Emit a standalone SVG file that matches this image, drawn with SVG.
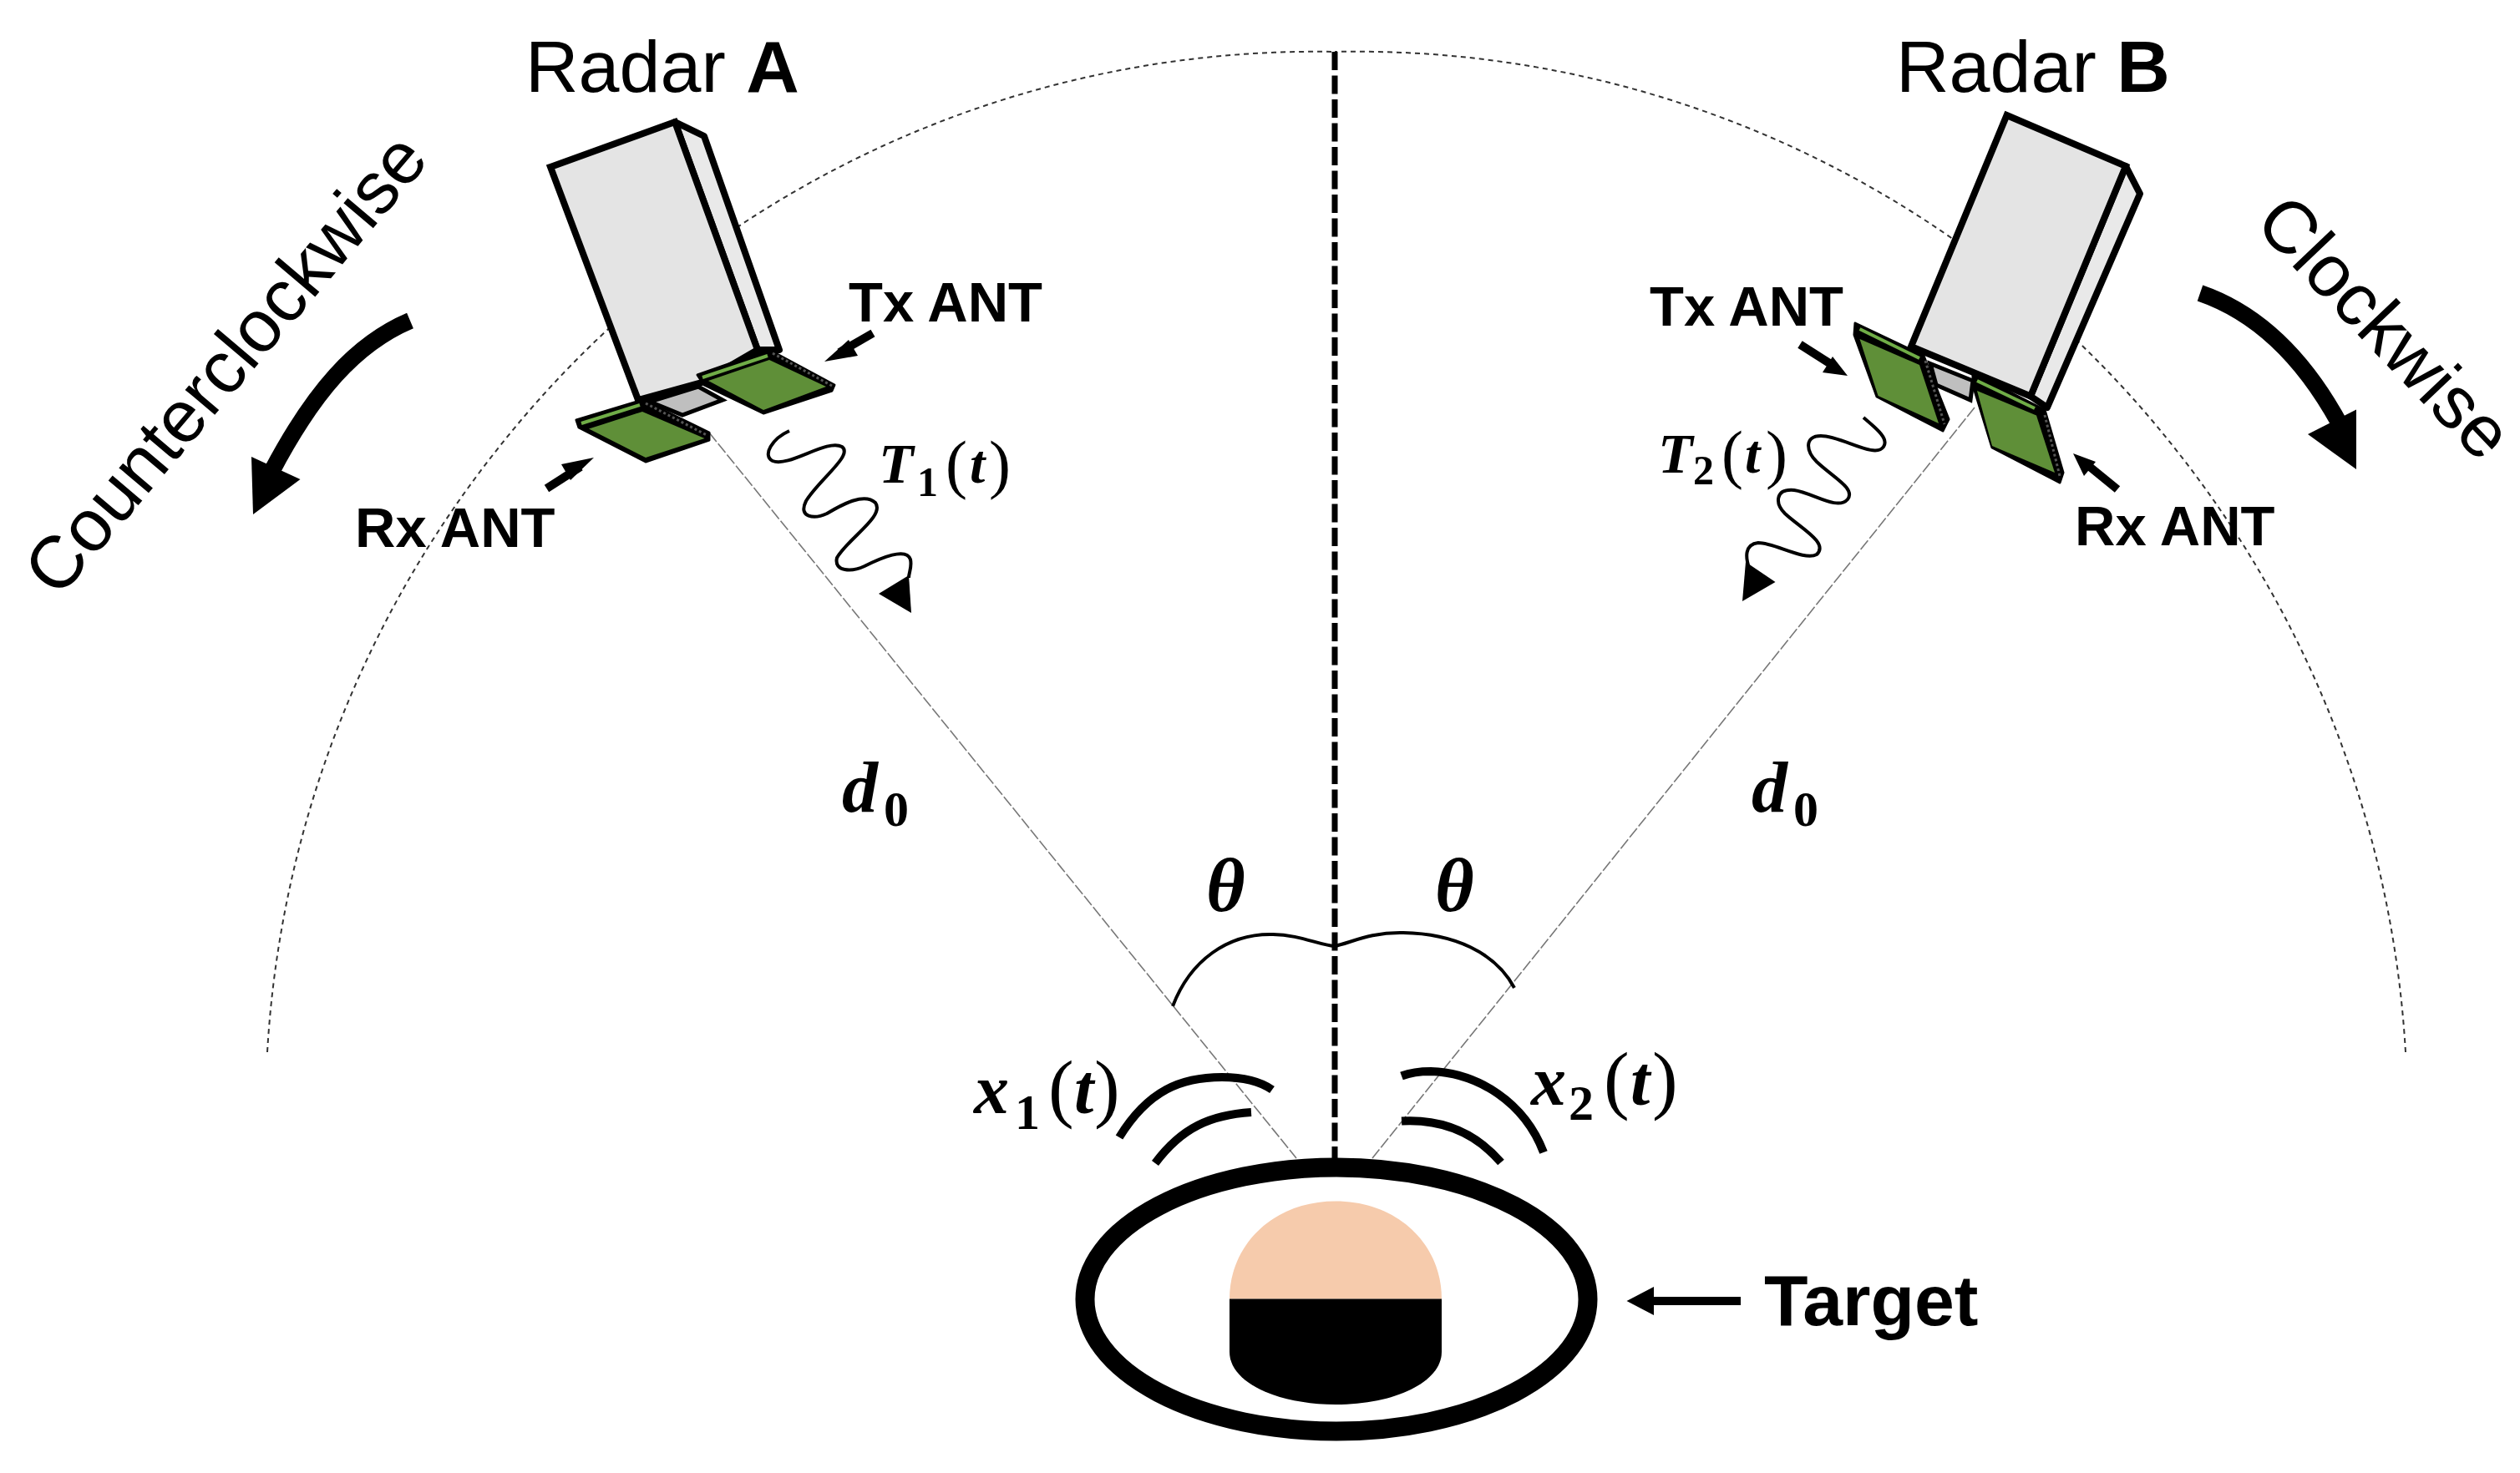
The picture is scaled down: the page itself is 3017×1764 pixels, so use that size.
<svg xmlns="http://www.w3.org/2000/svg" width="3017" height="1764" viewBox="0 0 3017 1764">
<style>
text{fill:#000;font-family:"Liberation Sans",Arial,sans-serif}
.big{font-size:88px}
.ant{font-size:67px;font-weight:700}
.rot{font-size:88px}
.m{font-family:"Liberation Serif","Times New Roman",serif;font-weight:700;font-style:italic}
.p{font-family:"Liberation Serif","Times New Roman",serif;font-weight:400;font-style:normal}
.n{font-family:"Liberation Serif","Times New Roman",serif;font-weight:700;font-style:normal}
.arc{fill:none;stroke:#333;stroke-width:2;stroke-dasharray:6 5}
.ray{fill:none;stroke:#777;stroke-width:1.6;stroke-dasharray:14 3}
.ln{fill:none;stroke:#000;stroke-linecap:butt}
.body{fill:#e4e4e4;stroke:#000;stroke-width:8;stroke-linejoin:miter}
.side{fill:#e9e9e9;stroke:#000;stroke-width:8;stroke-linejoin:round}
.gap{fill:#bfbfbf;stroke:#000;stroke-width:5}
.pb{fill:#000;stroke:#000;stroke-width:3;stroke-linejoin:round}
.pg{fill:#5f8f38}
.ps{fill:none;stroke:#70ad47;stroke-width:4}
.pd{fill:none;stroke:#555;stroke-width:3;stroke-dasharray:3 3}
</style>
<g id="connectors">
<path class="arc" d="M320,1260 A1280,1280 0 0 1 597,536 A1247,1247 0 0 1 1598,62"/>
<path class="arc" d="M2880,1260 A1280,1280 0 0 0 2603,536 A1247,1247 0 0 0 1598,62"/>
<path class="ln" d="M1598,62 V1387" style="stroke-width:7;stroke-dasharray:22 6.5"/>
<path class="ray" d="M849,518 L1552,1387"/>
<path class="ray" d="M2364,488 L1643,1387"/>
<path class="ln" style="stroke-width:4" d="M1404,1205 C1425,1150 1470,1118 1523,1119 C1555,1119 1580,1132 1597.5,1133 C1615,1130 1640,1116 1680,1117 C1740,1118 1790,1140 1813,1183"/>
<path class="ln" style="stroke-width:10" d="M1340,1362 C1375,1305 1415,1290 1463,1290 C1490,1290 1510,1296 1523,1305"/>
<path class="ln" style="stroke-width:10" d="M1383,1393 C1415,1350 1450,1335 1498,1332"/>
<path class="ln" style="stroke-width:10" d="M1678,1288.5 C1690,1284 1700,1283 1713,1283 C1770,1285 1825,1320 1848,1380"/>
<path class="ln" style="stroke-width:10" d="M1678,1342.6 C1725,1340 1765,1355 1797,1392"/>
<path class="ln" style="stroke-width:4" d="M945,516 C925,525 912,545 925,552 C945,560 990,525 1008,535 C1022,545 980,575 965,600 C955,620 975,622 990,615 C1010,603 1035,590 1048,602 C1060,618 1015,645 1002,668 C998,685 1020,685 1035,678 C1055,668 1085,655 1090,670 C1092,680 1088,685 1088,692"/>
<polygon points="1088,689 1052,711 1091,734"/>
<path class="ln" style="stroke-width:4" d="M2231,500 C2245,512 2262,525 2255,535 C2245,550 2205,522 2180,522 C2160,522 2162,540 2175,553 C2195,572 2222,585 2212,598 C2200,612 2170,590 2148,587 C2125,585 2125,603 2137,615 C2155,632 2190,650 2175,664 C2160,672 2125,650 2105,650 C2088,652 2090,668 2094,680"/>
<polygon points="2090,673 2125.5,697 2086,720"/>
<path class="ln" style="stroke-width:20" d="M491,384 C425,412 375,470 325,565"/>
<polygon points="301,547 303,616 359.5,574"/>
<path class="ln" style="stroke-width:20" d="M2634,351 C2695,372 2755,420 2805,515"/>
<polygon points="2821,490.5 2763,520 2821,562"/>
<path class="ln" style="stroke-width:10" d="M1045,399 L1005,422"/>
<polygon points="987,433 1016,407 1027,426"/>
<path class="ln" style="stroke-width:10" d="M654.5,585 L695,559"/>
<polygon points="711,548 683,575 672,556"/>
<path class="ln" style="stroke-width:10" d="M2155,412.5 L2195,438"/>
<polygon points="2212,450 2182,446 2194,427"/>
<path class="ln" style="stroke-width:10" d="M2535,586 L2497,555"/>
<polygon points="2482,543 2509,553 2495,570"/>
<path class="ln" style="stroke-width:10" d="M2084,1558 H1975"/>
<polygon points="1947.5,1558 1980,1541 1980,1575"/>
</g>
<g id="radar-a">
<polygon class="gap" points="778,481 836,463 865,479 817,497"/>
<polygon class="side" points="808,146 843,163 933,419 907,419"/>
<polygon class="body" points="659,200 808,146 907,419 840,458 764,479"/>
<g><polygon class="pb" points="835,449 921,419 999,461 996,468 914,495 843,461"/><polygon class="pg" points="848,456 921,431 989,463 914,491"/><path class="ps" d="M841,452 L919,426"/><path class="pd" d="M925,423 L996,462"/></g>
<g><polygon class="pb" points="690,503 769,479 849,518 849,527 773,553 693,512"/><polygon class="pg" points="705,513.6 769,493 843.6,525 773,548"/><path class="ps" d="M696,507 L766,485"/><path class="pd" d="M773,483 L846,521"/></g>
<text class="big" x="629" y="110">Radar <tspan font-weight="700">A</tspan></text>
<text class="ant" x="1016" y="385">Tx ANT</text>
<text class="ant" x="425" y="655">Rx ANT</text>
</g>
<g id="radar-b">
<polygon class="gap" points="2311,435.5 2362,456 2359,479 2318,461"/>
<polygon class="side" points="2545,199 2562,232 2451,488 2431,474.5"/>
<polygon class="body" points="2402.5,138 2545,199 2431,474.5 2288,415"/>
<g><polygon class="pb" points="2221,387 2303,426 2333,502 2326,516 2247,475 2220,401"/><polygon class="pg" points="2226.5,406 2298,437 2321,507 2248.5,474"/><path class="ps" d="M2226.5,394 L2298,429"/><path class="pd" d="M2305,432 L2328,508"/></g>
<g><polygon class="pb" points="2362,447 2448,491 2470,566 2466,578 2385,536 2362,461"/><polygon class="pg" points="2367,468 2438,497.5 2460,566 2385,534"/><path class="ps" d="M2367,456 L2436,489"/><path class="pd" d="M2448,497 L2466,570"/></g>
<text class="big" x="2270" y="110">Radar <tspan font-weight="700">B</tspan></text>
<text class="ant" x="1975" y="390">Tx ANT</text>
<text class="ant" x="2484" y="653">Rx ANT</text>
</g>
<g id="rotation-labels">
<text class="rot" transform="translate(69.7,718) rotate(-49.7)">Counterclockwise</text>
<text class="rot" transform="translate(2697,269) rotate(46.4)">Clockwise</text>
</g>
<g id="math-labels">
<text class="m" font-size="68" x="1052" y="578">T</text><text class="n" font-size="50" x="1098" y="594">1</text><text class="p" font-size="78" x="1132" y="582">(</text><text class="m" font-size="66" x="1161" y="578">t</text><text class="p" font-size="78" x="1184" y="582">)</text>
<text class="m" font-size="68" x="1985" y="566">T</text><text class="n" font-size="50" x="2027" y="580">2</text><text class="p" font-size="78" x="2061" y="570">(</text><text class="m" font-size="66" x="2089" y="566">t</text><text class="p" font-size="78" x="2114" y="570">)</text>
<text class="m" font-size="86" x="1008" y="972">d</text><text class="n" font-size="60" x="1058" y="989">0</text>
<text class="m" font-size="86" x="2097" y="972">d</text><text class="n" font-size="60" x="2147" y="989">0</text>
<text class="m" font-size="90" x="1444" y="1091">θ</text>
<text class="m" font-size="90" x="1718" y="1091">θ</text>
<text class="m" font-size="84" x="1166" y="1333">x</text><text class="n" font-size="60" x="1215" y="1352">1</text><text class="p" font-size="92" x="1255" y="1333">(</text><text class="m" font-size="84" x="1286" y="1333">t</text><text class="p" font-size="92" x="1310" y="1333">)</text>
<text class="m" font-size="84" x="1833" y="1323">x</text><text class="n" font-size="60" x="1878" y="1341">2</text><text class="p" font-size="92" x="1920" y="1323">(</text><text class="m" font-size="84" x="1952" y="1323">t</text><text class="p" font-size="92" x="1978" y="1323">)</text>
</g>
<g id="target">
<ellipse cx="1600" cy="1556" rx="301" ry="158" fill="#fff" stroke="#000" stroke-width="23"/>
<path d="M1472,1555.6 C1472,1490 1525,1438.6 1599,1438.6 C1673,1438.6 1726,1490 1726,1555.6 Z" fill="#f6cbac"/>
<path d="M1472,1555.6 H1726 V1619 C1726,1655 1670,1682 1599,1682 C1528,1682 1472,1655 1472,1619 Z" fill="#000"/>
<text x="2112" y="1587" font-size="86" font-weight="700">Target</text>
</g>
</svg>
